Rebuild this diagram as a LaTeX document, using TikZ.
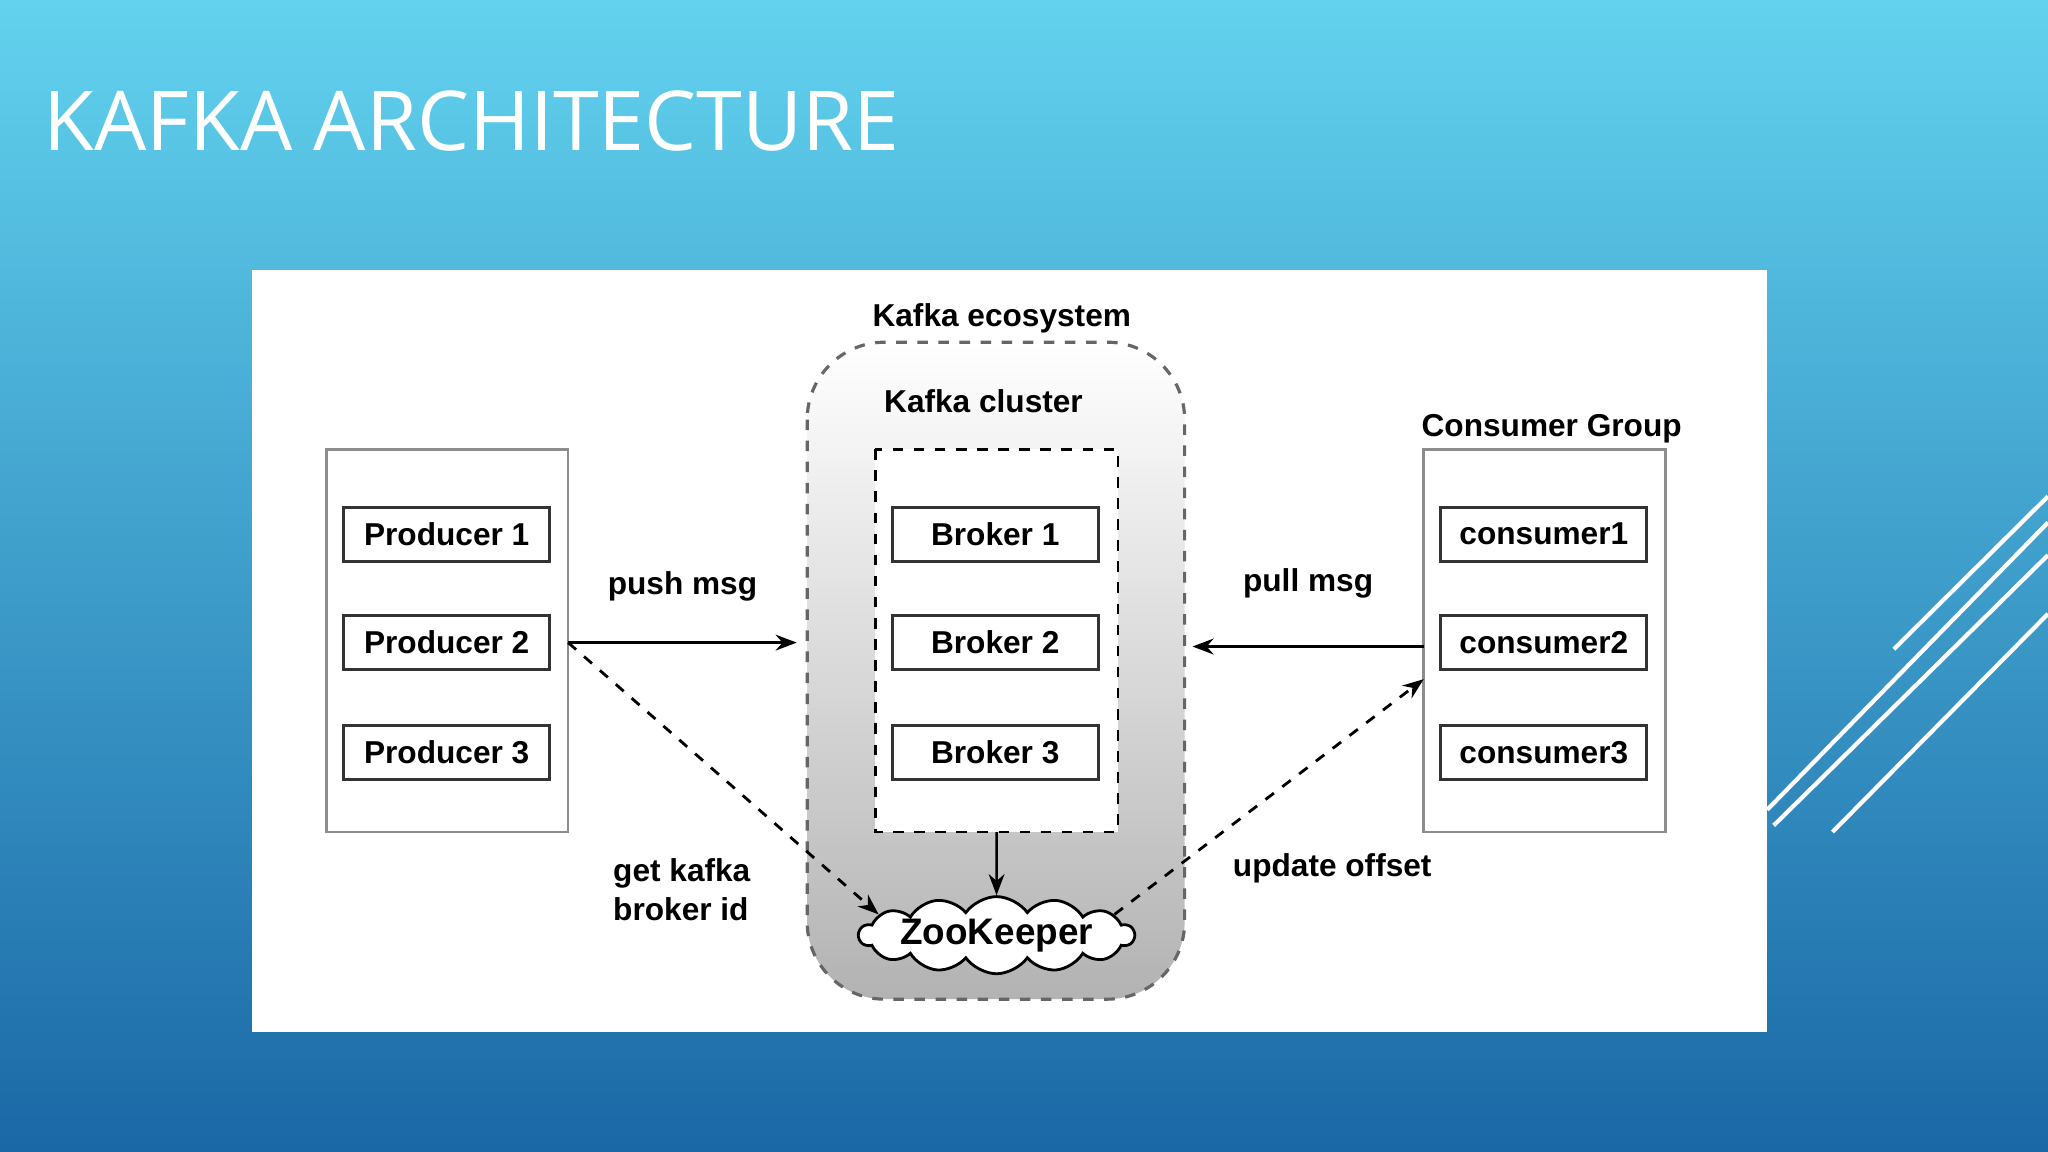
\documentclass[tikz,border=0pt]{standalone}
\usepackage{fontspec}
\setmainfont{Liberation Sans}
\newfontfamily\titlefont{Open Sans}
\usetikzlibrary{positioning,shapes.symbols,arrows.meta}
\definecolor{slidetop}{HTML}{62D2EE}
\definecolor{slidebot}{HTML}{1A68A6}

\begin{document}
\begin{tikzpicture}[x=0.01306cm,y=-0.01306cm,
  box/.style={draw=black!80,line width=0.8pt,fill=white,minimum width=2.06cm,
    minimum height=0.54cm,font=\fontsize{9}{10}\selectfont\bfseries},
  group/.style={draw=black!45,line width=0.7pt},
  lbl/.style={font=\fontsize{9}{11}\selectfont\bfseries,align=left},
  msg/.style={-{Stealth[length=6pt]},line width=0.7pt},
  dmsg/.style={-{Stealth[length=6pt]},dashed,line width=0.8pt}]
% slide background
\shade[top color=slidetop,bottom color=slidebot] (0,0) rectangle (1568,882);
\useasboundingbox (0,0) rectangle (1568,882);
\node[anchor=base west,text=white,inner sep=0pt,font=\titlefont\fontsize{23.5}{28}\selectfont]
  (title) at (33,115) {KAFKA ARCHITECTURE};
% decorative lines
\foreach \a/\b/\c/\d in {1450/497/1568/380,1353/620/1568/400,1358/632/1568/425,1403/637/1568/470}
  \draw[white,line width=1.2pt] (\a,\b) -- (\c,\d);
% white panel
\fill[white] (193,207) rectangle (1353,790);
% ecosystem
\shade[top color=white,bottom color=black!30,rounded corners=22pt] (618,262) rectangle (907,765);
\draw[dashed,black!60,line width=0.9pt,rounded corners=22pt] (618,262) rectangle (907,765);
\node[lbl] (eco) at (767,244) {Kafka ecosystem};
\node[lbl] (clusterlbl) at (753,307) {Kafka cluster};
\draw[dashed,fill=white,line width=0.8pt] (670,344) rectangle (856,637);
\coordinate (clusterbot) at (763,637);
% producers
\draw[group] (250,344) rectangle (435,637);
\foreach \i/\y in {1/409,2/492,3/576}
  \node[box] (p\i) at (342,\y) {Producer \i};
\coordinate (pout) at (435,492);
% brokers
\foreach \i/\y in {1/409,2/492,3/576}
  \node[box] (b\i) at (762,\y) {Broker \i};
\coordinate (bin) at (610,492);
% consumers
\draw[group] (1090,344) rectangle (1275,637);
\node[lbl] (cg) at (1188,328) {Consumer Group};
\foreach \i/\y in {1/409,2/492,3/576}
  \node[box] (c\i) at (1182,\y) {consumer\i};
\coordinate (cout) at (1090,495);
\coordinate (cin) at (913,495);
\coordinate (cupd) at (1090,520);
% zookeeper
\node[cloud,cloud ignores aspect,draw,fill=white,line width=0.8pt,cloud puffs=14,
  cloud puff arc=110,minimum width=2.75cm,minimum height=0.62cm,inner sep=0pt,
  font=\fontsize{10.5}{12}\selectfont\bfseries] (zk) at (763,716) {ZooKeeper};
% connectors
\draw[msg] (pout) -- (bin) node[lbl,midway,above=8pt] (push) {push msg};
\draw[msg] (cout) -- (cin) node[lbl,midway,above=10pt] (pull) {pull msg};
\draw[msg] (clusterbot) -- (zk.north);
\draw[dmsg] (pout) -- (zk.170);
\draw[dmsg] (zk.10) -- (cupd);
\node[lbl] (getid) at (522,681) {get kafka\\broker id};
\node[lbl] (upd) at (1020,665) {update offset};
\end{tikzpicture}
\end{document}
